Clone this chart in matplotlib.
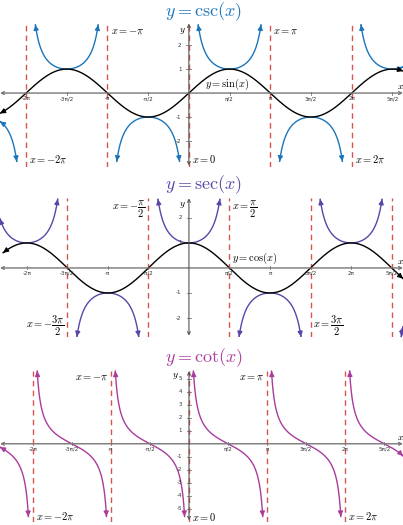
import numpy as np
import matplotlib
matplotlib.use('Agg')
from matplotlib import pyplot as plt

plt.rcParams['mathtext.fontset'] = 'cm'

# chart data
titles = [r'$y = \mathrm{csc}(x)$', r'$y = \mathrm{sec}(x)$', r'$y = \mathrm{cot}(x)$']
colors = ['#1b75bb', '#5b45a8', '#a93c9c']
asym_csc = [-2, -1, 0, 1, 2]          # in units of pi
asym_sec = [-1.5, -0.5, 0.5, 1.5, 2.5]
asym_cot = [-2, -1, 0, 1, 2]
xtick_pos = [-2, -1.5, -1, -0.5, 0.5, 1, 1.5, 2, 2.5]
xtick_lab = ['-2π', '-3π/2', '-π', '-π/2', 'π/2', 'π', '3π/2', '2π', '5π/2']
yticks_12 = [-2, -1, 1, 2]
yticks_3 = [-5, -4, -3, -2, -1, 1, 2, 3, 4, 5]

# panel geometry (figure fractions) and limits (x in units of pi)
panels = [
    dict(rect=[0, 0.682, 1, 0.276], xlim=(-2.32, 2.63), ylim=(-3.08, 2.96), ylab=(-0.12, 2.6)),
    dict(rect=[0, 0.358, 1, 0.267], xlim=(-2.33, 2.64), ylim=(-2.76, 2.84), ylab=(-0.12, 2.5)),
    dict(rect=[0, 0.006, 1, 0.290], xlim=(-2.42, 2.74), ylim=(-6.0, 5.7), ylab=(-0.4, 5.2)),
]
title_y = [0.977, 0.648, 0.318]

fig = plt.figure(figsize=(4.03, 5.25), dpi=100)
pi = np.pi
red = '#d9534f'


def arrow(ax, p0, p1, color, lw=1.0):
    ax.annotate('', xy=p1, xytext=p0,
                arrowprops=dict(arrowstyle='-|>', color=color, lw=lw,
                                mutation_scale=7, shrinkA=0, shrinkB=0))


def branches(ax, f, poles, xlim, ymax, color, lw=1.0):
    edges = [xlim[0] * pi] + [p * pi for p in poles] + [xlim[1] * pi]
    for a, b in zip(edges[:-1], edges[1:]):
        x = np.linspace(a + 1e-4, b - 1e-4, 3000)
        y = f(x)
        m = np.abs(y) <= ymax
        x, y = x[m], y[m]
        if len(x) < 5:
            continue
        ax.plot(x, y, color=color, lw=lw)
        arrow(ax, (x[3], y[3]), (x[0], y[0]), color, lw)
        arrow(ax, (x[-4], y[-4]), (x[-1], y[-1]), color, lw)


def base(ax, p, yt):
    ax.set_xlim(p['xlim'][0] * pi, p['xlim'][1] * pi)
    ax.set_ylim(*p['ylim'])
    ax.axis('off')
    x0, x1 = p['xlim'][0] * pi, p['xlim'][1] * pi
    y0, y1 = p['ylim']
    ax.annotate('', xy=(x1, 0), xytext=(x0, 0),
                arrowprops=dict(arrowstyle='<->', color='#777777', lw=1.0,
                                mutation_scale=5, shrinkA=0, shrinkB=0))
    ax.annotate('', xy=(0, y1 * 0.98), xytext=(0, y0 * 0.98),
                arrowprops=dict(arrowstyle='<->', color='#555555', lw=0.8,
                                mutation_scale=5, shrinkA=0, shrinkB=0))
    dy = (y1 - y0) * 0.035
    for xp, lab in zip(xtick_pos, xtick_lab):
        ax.plot([xp * pi] * 2, [-dy * 0.3, dy * 0.3], color='#777777', lw=0.6)
        ax.text(xp * pi, -dy * 0.6, lab, fontsize=4, ha='center', va='top', color='#333333')
    dx = (x1 - x0) * 0.006
    for v in yt:
        ax.plot([-dx, dx], [v, v], color='#777777', lw=0.6)
        ax.text(-dx * 3, v, str(v), fontsize=4, ha='right', va='center', color='#333333')
    ax.text(x1 - 0.1, dy * 0.4, r'$x$', fontsize=7, ha='center', va='bottom')
    ax.text(p['ylab'][0], p['ylab'][1], r'$y$', fontsize=7, ha='right', va='center')


def vlines(ax, poles, ylim):
    for p in poles:
        ax.plot([p * pi] * 2, [ylim[0], ylim[1] * 0.98], color=red, lw=1.0, ls=(0, (4, 3)))


fs = 7.5
# panel 1: csc
ax = fig.add_axes(panels[0]['rect'])
p = panels[0]
base(ax, p, yticks_12)
vlines(ax, asym_csc, p['ylim'])
branches(ax, lambda x: 1 / np.sin(x), asym_csc, p['xlim'], 2.85, colors[0])
xs = np.linspace(p['xlim'][0] * pi, p['xlim'][1] * pi, 800)
ax.plot(xs, np.sin(xs), color='black', lw=1.0)
arrow(ax, (xs[5], np.sin(xs[5])), (xs[0], np.sin(xs[0])), 'black')
arrow(ax, (xs[-6], np.sin(xs[-6])), (xs[-1], np.sin(xs[-1])), 'black')
ax.text(-pi + 0.12, 2.6, r'$x = -\pi$', fontsize=fs, va='center')
ax.text(pi + 0.12, 2.6, r'$x = \pi$', fontsize=fs, va='center')
ax.text(-2 * pi + 0.12, -2.75, r'$x = -2\pi$', fontsize=fs, va='center')
ax.text(0.12, -2.75, r'$x = 0$', fontsize=fs, va='center')
ax.text(2 * pi + 0.12, -2.75, r'$x = 2\pi$', fontsize=fs, va='center')
ax.text(0.2 * pi, 0.35, r'$y = \sin(x)$', fontsize=fs, va='center')

# panel 2: sec
ax = fig.add_axes(panels[1]['rect'])
p = panels[1]
base(ax, p, yticks_12)
vlines(ax, asym_sec, p['ylim'])
branches(ax, lambda x: 1 / np.cos(x), asym_sec, p['xlim'], 2.75, colors[1])
xs = np.linspace(p['xlim'][0] * pi + 0.12, p['xlim'][1] * pi, 800)
ax.plot(xs, np.cos(xs), color='black', lw=1.0)
arrow(ax, (xs[5], np.cos(xs[5])), (xs[0], np.cos(xs[0])), 'black')
arrow(ax, (xs[-6], np.cos(xs[-6])), (xs[-1], np.cos(xs[-1])), 'black')
ax.text(-0.5 * pi - 0.1, 2.35, r'$x = -\dfrac{\pi}{2}$', fontsize=fs, ha='right', va='center')
ax.text(0.5 * pi + 0.1, 2.35, r'$x = \dfrac{\pi}{2}$', fontsize=fs, ha='left', va='center')
ax.text(-1.5 * pi - 0.1, -2.3, r'$x = -\dfrac{3\pi}{2}$', fontsize=fs, ha='right', va='center')
ax.text(1.5 * pi + 0.1, -2.3, r'$x = \dfrac{3\pi}{2}$', fontsize=fs, ha='left', va='center')
ax.text(0.5 * pi + 0.1, 0.38, r'$y = \cos(x)$', fontsize=fs, va='center')

# panel 3: cot
ax = fig.add_axes(panels[2]['rect'])
p = panels[2]
base(ax, p, yticks_3)
vlines(ax, asym_cot, p['ylim'])
branches(ax, lambda x: 1 / np.tan(x), asym_cot, p['xlim'], 5.6, colors[2])
ax.text(-pi - 0.1, 5.1, r'$x = -\pi$', fontsize=fs, ha='right', va='center')
ax.text(pi - 0.1, 5.1, r'$x = \pi$', fontsize=fs, ha='right', va='center')
ax.text(-2 * pi + 0.12, -5.6, r'$x = -2\pi$', fontsize=fs, va='center')
ax.text(0.12, -5.6, r'$x = 0$', fontsize=fs, va='center')
ax.text(2 * pi + 0.12, -5.6, r'$x = 2\pi$', fontsize=fs, va='center')

for t, c, yy in zip(titles, colors, title_y):
    fig.text(0.505, yy, t, fontsize=13, color=c, ha='center', va='center')

fig.savefig('out.png', dpi=100)
